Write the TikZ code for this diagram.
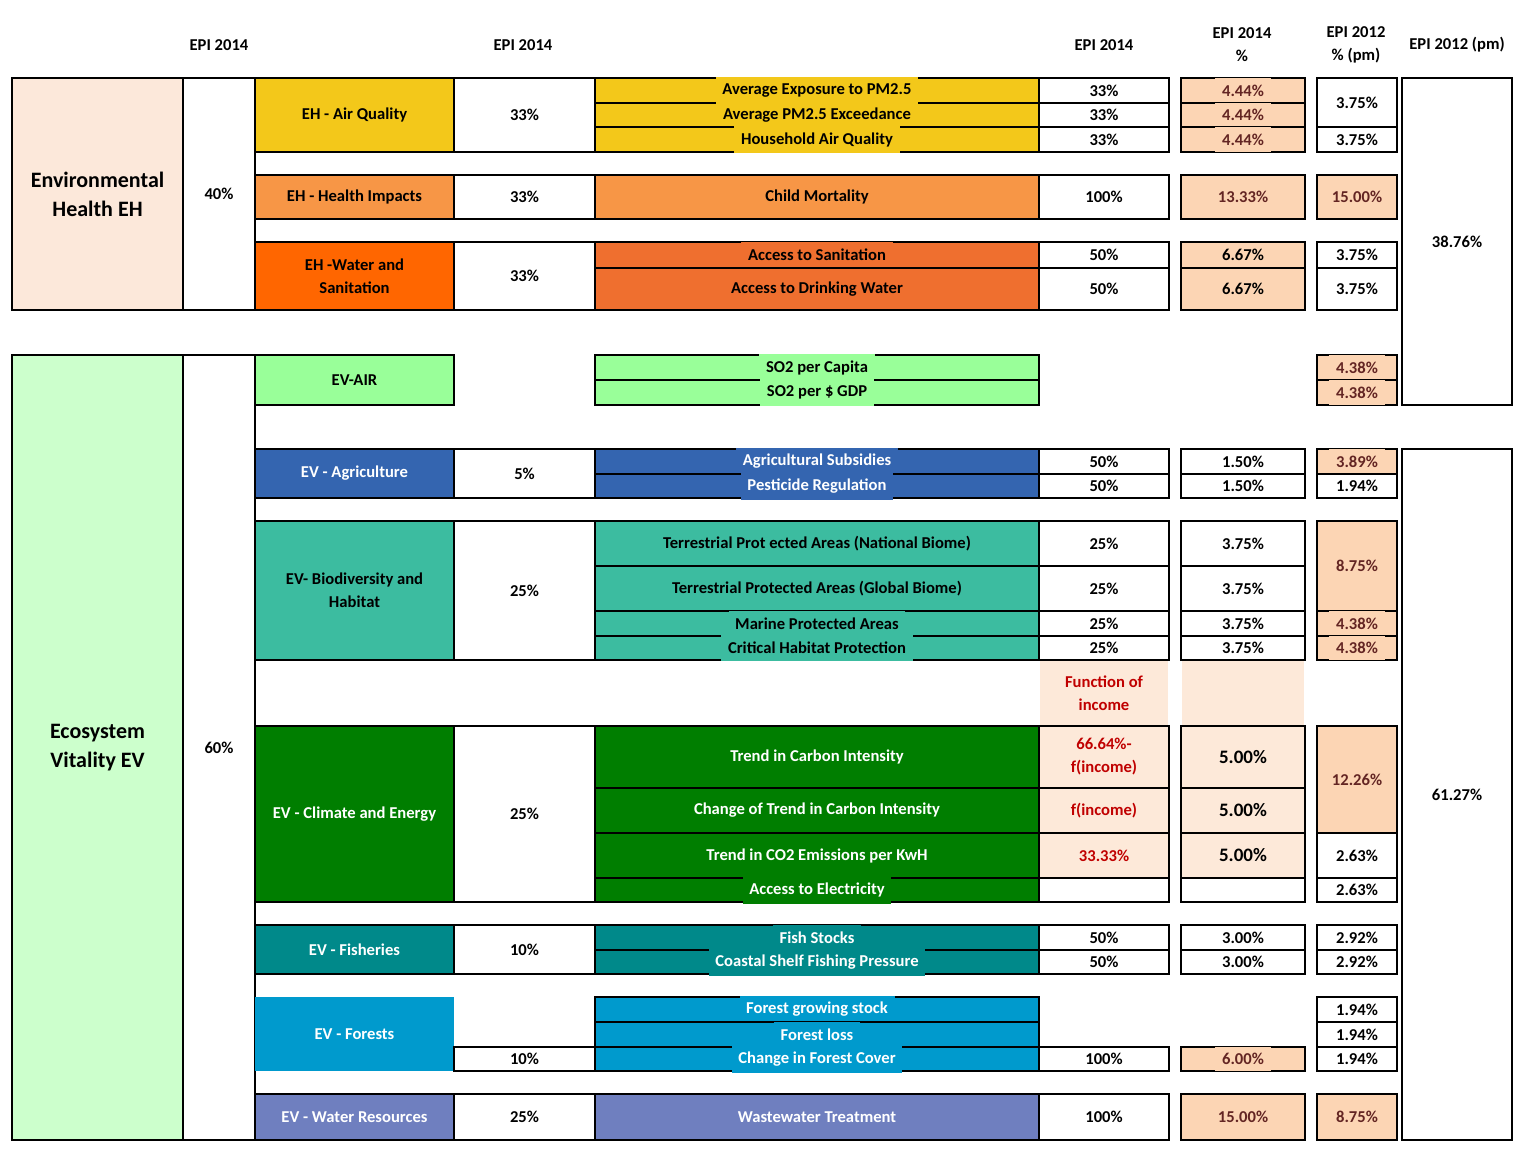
\documentclass[tikz,border=0pt]{standalone}
\usepackage{fontspec}
\setmainfont{Carlito}
\begin{document}
\definecolor{peach}{HTML}{FCD5B4}
\definecolor{peachl}{HTML}{FDE9D9}
\definecolor{ehl}{HTML}{FCE8DA}
\definecolor{evl}{HTML}{CCFFCC}
\definecolor{air}{HTML}{F3C81A}
\definecolor{hlt}{HTML}{F79646}
\definecolor{wsc}{HTML}{FF6600}
\definecolor{wse}{HTML}{EF6F2F}
\definecolor{evair}{HTML}{99FF99}
\definecolor{agr}{HTML}{3465B0}
\definecolor{bio}{HTML}{3CBCA0}
\definecolor{clim}{HTML}{007E00}
\definecolor{fish}{HTML}{00898A}
\definecolor{forest}{HTML}{009ACD}
\definecolor{wres}{HTML}{6F7FBF}
\definecolor{dred}{HTML}{632523}
\definecolor{red2}{HTML}{C00000}
\newcommand\cell[6][]{\path[draw=black,line width=0.9pt,fill=white,#1] (#2,#3) rectangle (#4,#5) node[midway,align=center,font=\bfseries\fontsize{8.3}{11.5}\selectfont,text=black,#1]{#6};}
\begin{tikzpicture}[x=0.5pt,y=-0.5pt,
 pk/.style={fill=peach,text=dred},
 wt/.style={text=white}]
\useasboundingbox (0,0) rectangle (1524,1151);
\tikzset{hd/.style={font=\bfseries\fontsize{8.3}{11.5}\selectfont,align=center}}
\node[hd] (h1) at (219,45) {EPI 2014};
\node[hd] (h2) at (523,45) {EPI 2014};
\node[hd] (h3) at (1104,45) {EPI 2014};
\node[hd] (h4) at (1242,45) {EPI 2014\\\%};
\node[hd] (h5) at (1356,45) {EPI 2012\\\% (pm)};
\node[hd] (h6) at (1457,45) {EPI 2012 (pm)};
% EH block
\cell[fill=ehl,font=\bfseries\fontsize{11}{14.5}\selectfont]{12}{78}{183}{310}{Environmental\\Health EH}
\cell{183}{78}{255}{310}{40\%}
\cell[fill=air]{255}{78}{454}{152}{EH - Air Quality}
\cell{454}{78}{595}{152}{33\%}
\cell[fill=air]{595}{78}{1039}{103}{Average Exposure to PM2.5}
\cell[fill=air]{595}{103}{1039}{127}{Average PM2.5 Exceedance}
\cell[fill=air]{595}{127}{1039}{152}{Household Air Quality}
\cell{1039}{78}{1169}{103}{33\%}
\cell{1039}{103}{1169}{127}{33\%}
\cell{1039}{127}{1169}{152}{33\%}
\cell[pk]{1181}{78}{1305}{103}{4.44\%}
\cell[pk]{1181}{103}{1305}{127}{4.44\%}
\cell[pk]{1181}{127}{1305}{152}{4.44\%}
\cell{1317}{78}{1397}{127}{3.75\%}
\cell{1317}{127}{1397}{152}{3.75\%}
\cell[fill=hlt]{255}{175}{454}{219}{EH - Health Impacts}
\cell{454}{175}{595}{219}{33\%}
\cell[fill=hlt]{595}{175}{1039}{219}{Child Mortality}
\cell{1039}{175}{1169}{219}{100\%}
\cell[pk]{1181}{175}{1305}{219}{13.33\%}
\cell[pk]{1317}{175}{1397}{219}{15.00\%}
\cell[fill=wsc]{255}{242}{454}{310}{EH -Water and\\Sanitation}
\cell{454}{242}{595}{310}{33\%}
\cell[fill=wse]{595}{242}{1039}{268}{Access to Sanitation}
\cell[fill=wse]{595}{268}{1039}{310}{Access to Drinking Water}
\cell{1039}{242}{1169}{268}{50\%}
\cell{1039}{268}{1169}{310}{50\%}
\cell[fill=peach]{1181}{242}{1305}{268}{6.67\%}
\cell[fill=peach]{1181}{268}{1305}{310}{6.67\%}
\cell{1317}{242}{1397}{268}{3.75\%}
\cell{1317}{268}{1397}{310}{3.75\%}
\cell{1402}{78}{1512}{405}{38.76\%}
% EV block
\cell[fill=evl,font=\bfseries\fontsize{11}{14.5}\selectfont]{12}{355}{183}{1140}{Ecosystem\\Vitality EV}
\cell{183}{355}{255}{1140}{60\%}
\cell[fill=evair]{255}{355}{454}{405}{EV-AIR}
\cell[fill=evair]{595}{355}{1039}{380}{SO2 per Capita}
\cell[fill=evair]{595}{380}{1039}{405}{SO2 per \$ GDP}
\cell[pk]{1317}{355}{1397}{380}{4.38\%}
\cell[pk]{1317}{380}{1397}{405}{4.38\%}
\cell{1402}{449}{1512}{1140}{61.27\%}
% agriculture
\cell[fill=agr,wt]{255}{449}{454}{498}{EV - Agriculture}
\cell{454}{449}{595}{498}{5\%}
\cell[fill=agr,wt]{595}{449}{1039}{474}{Agricultural Subsidies}
\cell[fill=agr,wt]{595}{474}{1039}{498}{Pesticide Regulation}
\cell{1039}{449}{1169}{474}{50\%}
\cell{1039}{474}{1169}{498}{50\%}
\cell{1181}{449}{1305}{474}{1.50\%}
\cell{1181}{474}{1305}{498}{1.50\%}
\cell[pk]{1317}{449}{1397}{474}{3.89\%}
\cell{1317}{474}{1397}{498}{1.94\%}
% biodiversity
\cell[fill=bio]{255}{521}{454}{660}{EV- Biodiversity and\\Habitat}
\cell{454}{521}{595}{660}{25\%}
\cell[fill=bio]{595}{521}{1039}{566}{Terrestrial Prot ected Areas (National Biome)}
\cell[fill=bio]{595}{566}{1039}{611}{Terrestrial Protected Areas (Global Biome)}
\cell[fill=bio]{595}{611}{1039}{636}{Marine Protected Areas}
\cell[fill=bio]{595}{636}{1039}{660}{Critical Habitat Protection}
\cell{1039}{521}{1169}{566}{25\%}
\cell{1039}{566}{1169}{611}{25\%}
\cell{1039}{611}{1169}{636}{25\%}
\cell{1039}{636}{1169}{660}{25\%}
\cell{1181}{521}{1305}{566}{3.75\%}
\cell{1181}{566}{1305}{611}{3.75\%}
\cell{1181}{611}{1305}{636}{3.75\%}
\cell{1181}{636}{1305}{660}{3.75\%}
\cell[pk]{1317}{521}{1397}{611}{8.75\%}
\cell[pk]{1317}{611}{1397}{636}{4.38\%}
\cell[pk]{1317}{636}{1397}{660}{4.38\%}
% function of income
\cell[draw=none,fill=peachl,text=red2]{1040}{661}{1168}{725}{Function of\\income}
\path[fill=peachl] (1182,661) rectangle (1304,725);
% climate
\cell[fill=clim,wt]{255}{726}{454}{902}{EV - Climate and Energy}
\cell{454}{726}{595}{902}{25\%}
\cell[fill=clim,wt]{595}{726}{1039}{788}{Trend in Carbon Intensity}
\cell[fill=clim,wt]{595}{788}{1039}{833}{Change of Trend in Carbon Intensity}
\cell[fill=clim,wt]{595}{833}{1039}{878}{Trend in CO2 Emissions per KwH}
\cell[fill=clim,wt]{595}{878}{1039}{902}{Access to Electricity}
\cell[fill=peachl,text=red2]{1039}{726}{1169}{788}{66.64\%-\\f(income)}
\cell[fill=peachl,text=red2]{1039}{788}{1169}{833}{f(income)}
\cell[fill=peachl,text=red2]{1039}{833}{1169}{878}{33.33\%}
\cell{1039}{878}{1169}{902}{}
\cell[fill=peachl,font=\bfseries\fontsize{9.5}{12}\selectfont]{1181}{726}{1305}{788}{5.00\%}
\cell[fill=peachl,font=\bfseries\fontsize{9.5}{12}\selectfont]{1181}{788}{1305}{833}{5.00\%}
\cell[fill=peachl,font=\bfseries\fontsize{9.5}{12}\selectfont]{1181}{833}{1305}{878}{5.00\%}
\cell{1181}{878}{1305}{902}{}
\cell[pk]{1317}{726}{1397}{833}{12.26\%}
\cell{1317}{833}{1397}{878}{2.63\%}
\cell{1317}{878}{1397}{902}{2.63\%}
% fisheries
\cell[fill=fish,wt]{255}{925}{454}{974}{EV - Fisheries}
\cell{454}{925}{595}{974}{10\%}
\cell[fill=fish,wt]{595}{925}{1039}{950}{Fish Stocks}
\cell[fill=fish,wt]{595}{950}{1039}{974}{Coastal Shelf Fishing Pressure}
\cell{1039}{925}{1169}{950}{50\%}
\cell{1039}{950}{1169}{974}{50\%}
\cell{1181}{925}{1305}{950}{3.00\%}
\cell{1181}{950}{1305}{974}{3.00\%}
\cell{1317}{925}{1397}{950}{2.92\%}
\cell{1317}{950}{1397}{974}{2.92\%}
% forests
\cell[fill=forest,wt,draw=none]{255}{997}{454}{1071}{EV - Forests}
\cell{454}{1047}{595}{1071}{10\%}
\cell[fill=forest,wt]{595}{997}{1039}{1022}{Forest growing stock}
\cell[fill=forest,wt]{595}{1022}{1039}{1047}{Forest loss}
\cell[fill=forest,wt]{595}{1047}{1039}{1071}{Change in Forest Cover}
\cell{1039}{1047}{1169}{1071}{100\%}
\cell[pk]{1181}{1047}{1305}{1071}{6.00\%}
\cell{1317}{997}{1397}{1022}{1.94\%}
\cell{1317}{1022}{1397}{1047}{1.94\%}
\cell{1317}{1047}{1397}{1071}{1.94\%}
% water resources
\cell[fill=wres,wt]{255}{1094}{454}{1140}{EV - Water Resources}
\cell{454}{1094}{595}{1140}{25\%}
\cell[fill=wres,wt]{595}{1094}{1039}{1140}{Wastewater Treatment}
\cell{1039}{1094}{1169}{1140}{100\%}
\cell[pk]{1181}{1094}{1305}{1140}{15.00\%}
\cell[pk]{1317}{1094}{1397}{1140}{8.75\%}
\end{tikzpicture}
\end{document}
